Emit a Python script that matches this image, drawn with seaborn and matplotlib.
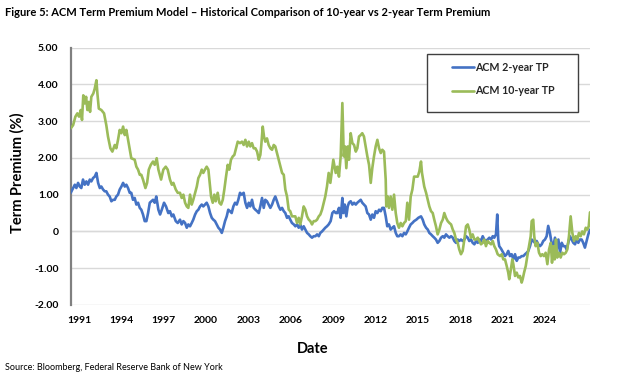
import matplotlib
matplotlib.use("Agg")
import matplotlib.pyplot as plt
import seaborn as sns
import pandas as pd
from matplotlib.patches import Rectangle

# ---------------- data ----------------
tp2_dates = [1990.41, 1990.58, 1990.70, 1990.81, 1990.93, 1991.05, 1991.16, 1991.28, 1991.40, 1991.52,
             1991.64, 1991.76, 1991.87, 1991.99, 1992.11, 1992.23, 1992.35, 1992.47, 1992.58, 1992.70,
             1992.82, 1992.93, 1993.05, 1993.17, 1993.29, 1993.41, 1993.53, 1993.64, 1993.76, 1993.88,
             1994.00, 1994.12, 1994.24, 1994.35, 1994.47, 1994.59, 1994.70, 1994.82, 1994.94, 1995.06,
             1995.18, 1995.30, 1995.41, 1995.53, 1995.65, 1995.77, 1995.89, 1996.01, 1996.12, 1996.24,
             1996.36, 1996.47, 1996.62, 1996.74, 1996.86, 1997.02, 1997.16, 1997.32, 1997.44, 1997.57,
             1997.68, 1997.85, 1997.99, 1998.15, 1998.27, 1998.39, 1998.51, 1998.63, 1998.74, 1998.86,
             1998.98, 1999.09, 1999.22, 1999.34, 1999.45, 1999.57, 1999.69, 1999.80, 1999.92, 2000.04,
             2000.16, 2000.28, 2000.40, 2000.51, 2000.63, 2000.75, 2000.87, 2000.99, 2001.11, 2001.22,
             2001.34, 2001.46, 2001.57, 2001.69, 2001.81, 2001.93, 2002.05, 2002.17, 2002.28, 2002.40,
             2002.52, 2002.66, 2002.78, 2002.90, 2003.02, 2003.13, 2003.25, 2003.37, 2003.49, 2003.61,
             2003.73, 2003.84, 2003.96, 2004.08, 2004.19, 2004.31, 2004.43, 2004.55, 2004.67, 2004.79,
             2004.90, 2005.02, 2005.14, 2005.26, 2005.38, 2005.50, 2005.61, 2005.73, 2005.85, 2005.96,
             2006.08, 2006.21, 2006.32, 2006.44, 2006.56, 2006.67, 2006.79, 2006.91, 2007.03, 2007.15,
             2007.27, 2007.38, 2007.50, 2007.62, 2007.74, 2007.86, 2007.98, 2008.09, 2008.21, 2008.33,
             2008.44, 2008.56, 2008.68, 2008.82, 2008.94, 2009.06, 2009.18, 2009.29, 2009.41, 2009.53,
             2009.65, 2009.72, 2009.82, 2009.93, 2010.03, 2010.12, 2010.24, 2010.36, 2010.48, 2010.60,
             2010.71, 2010.83, 2010.95, 2011.06, 2011.18, 2011.30, 2011.42, 2011.54, 2011.66, 2011.77,
             2011.89, 2012.01, 2012.13, 2012.25, 2012.37, 2012.48, 2012.60, 2012.72, 2012.83, 2012.95,
             2013.07, 2013.19, 2013.31, 2013.43, 2013.54, 2013.66, 2013.78, 2013.90, 2014.02, 2014.14,
             2014.25, 2014.37, 2014.49, 2014.61, 2014.73, 2014.89, 2015.03, 2015.22, 2015.34, 2015.45,
             2015.58, 2015.70, 2015.81, 2015.93, 2016.05, 2016.16, 2016.28, 2016.40, 2016.52, 2016.64,
             2016.76, 2016.87, 2016.99, 2017.11, 2017.23, 2017.35, 2017.47, 2017.58, 2017.70, 2017.82,
             2017.93, 2018.05, 2018.17, 2018.29, 2018.41, 2018.53, 2018.64, 2018.76, 2018.88, 2019.00,
             2019.12, 2019.24, 2019.35, 2019.47, 2019.59, 2019.70, 2019.82, 2019.94, 2020.06, 2020.18,
             2020.30, 2020.41, 2020.53, 2020.62, 2020.69, 2020.76, 2020.89, 2021.05, 2021.17, 2021.29,
             2021.40, 2021.52, 2021.64, 2021.76, 2021.88, 2022.00, 2022.11, 2022.23, 2022.35, 2022.47,
             2022.59, 2022.71, 2022.82, 2022.94, 2023.06, 2023.17, 2023.29, 2023.41, 2023.53, 2023.65,
             2023.77, 2023.88, 2024.00, 2024.12, 2024.23, 2024.35, 2024.47, 2024.59, 2024.71, 2024.83,
             2024.95, 2025.07, 2025.19, 2025.30, 2025.42, 2025.54, 2025.65, 2025.77, 2025.89, 2026.01,
             2026.13, 2026.24, 2026.36, 2026.48, 2026.60, 2026.71, 2026.83, 2026.95, 2027.07, 2027.19]
tp2_values = [1.05, 1.18, 1.27, 1.18, 1.32, 1.22, 1.18, 1.41, 1.27, 1.36,
              1.27, 1.41, 1.36, 1.45, 1.49, 1.59, 1.32, 1.18, 1.22, 1.14,
              1.09, 1.09, 1.00, 0.95, 0.82, 0.86, 0.86, 0.95, 1.00, 1.14,
              1.22, 1.32, 1.22, 1.27, 1.18, 1.05, 1.05, 0.86, 0.91, 0.73,
              0.78, 0.64, 0.59, 0.46, 0.28, 0.28, 0.50, 0.78, 0.82, 0.86,
              0.78, 0.95, 0.59, 0.46, 0.59, 0.78, 0.68, 0.50, 0.55, 0.41,
              0.46, 0.28, 0.23, 0.32, 0.19, 0.28, 0.23, 0.10, 0.19, 0.14,
              0.23, 0.32, 0.46, 0.55, 0.59, 0.68, 0.73, 0.68, 0.73, 0.78,
              0.68, 0.50, 0.37, 0.32, 0.28, 0.19, 0.10, 0.05, -0.04, 0.10,
              0.28, 0.41, 0.59, 0.55, 0.50, 0.68, 0.78, 0.73, 0.86, 1.05,
              1.00, 1.05, 0.78, 0.64, 0.78, 0.68, 0.86, 0.64, 0.59, 0.55,
              0.50, 0.68, 0.91, 0.64, 0.86, 0.82, 0.73, 0.64, 0.73, 0.86,
              0.95, 0.82, 0.68, 0.59, 0.64, 0.55, 0.50, 0.37, 0.41, 0.32,
              0.23, 0.19, 0.14, 0.19, 0.10, 0.19, 0.05, 0.14, 0.05, -0.04,
              -0.08, -0.13, -0.17, -0.13, -0.13, -0.08, -0.13, -0.04, 0.00, 0.05,
              0.10, 0.14, 0.19, 0.28, 0.50, 0.55, 0.50, 0.50, 0.64, 0.37,
              0.91, 0.50, 0.73, 0.41, 0.68, 0.78, 0.82, 0.73, 0.78, 0.73,
              0.78, 0.82, 0.86, 0.78, 0.73, 0.68, 0.50, 0.46, 0.32, 0.46,
              0.37, 0.55, 0.50, 0.59, 0.55, 0.64, 0.64, 0.41, 0.14, 0.19,
              0.05, 0.10, 0.14, -0.04, -0.13, -0.13, -0.08, -0.13, -0.04, -0.08,
              0.00, 0.10, 0.19, 0.23, 0.28, 0.32, 0.37, 0.41, 0.32, 0.19,
              0.10, 0.05, -0.04, -0.08, -0.13, -0.17, -0.22, -0.31, -0.26, -0.17,
              -0.13, -0.17, -0.08, -0.13, -0.17, -0.13, -0.17, -0.26, -0.31, -0.22,
              -0.26, -0.22, -0.26, -0.22, -0.13, -0.17, -0.26, -0.22, -0.31, -0.35,
              -0.26, -0.31, -0.22, -0.26, -0.13, -0.22, -0.26, -0.22, -0.17, -0.22,
              -0.13, -0.17, -0.08, 0.46, -0.22, -0.40, -0.47, -0.58, -0.67, -0.62,
              -0.53, -0.67, -0.62, -0.76, -0.62, -0.80, -0.71, -0.71, -0.67, -0.67,
              -0.62, -0.58, -0.53, -0.40, -0.22, -0.26, -0.31, -0.26, -0.35, -0.40,
              -0.35, -0.26, -0.22, -0.13, 0.15, -0.04, -0.31, -0.40, -0.17, -0.49,
              -0.22, -0.58, -0.31, -0.40, -0.40, -0.49, -0.31, -0.13, -0.22, -0.31,
              -0.35, -0.22, -0.31, -0.22, -0.22, -0.31, -0.44, -0.26, -0.08, 0.05]

tp10_dates = [1990.41, 1990.58, 1990.74, 1990.88, 1991.00, 1991.12, 1991.21, 1991.30, 1991.40, 1991.50,
              1991.59, 1991.69, 1991.78, 1991.87, 1992.01, 1992.11, 1992.23, 1992.30, 1992.40, 1992.58,
              1992.77, 1992.93, 1993.05, 1993.22, 1993.36, 1993.53, 1993.64, 1993.76, 1993.88, 1994.00,
              1994.12, 1994.24, 1994.35, 1994.47, 1994.59, 1994.70, 1994.94, 1995.06, 1995.18, 1995.30,
              1995.41, 1995.53, 1995.70, 1995.82, 1995.94, 1996.08, 1996.24, 1996.36, 1996.50, 1996.62,
              1996.81, 1996.97, 1997.14, 1997.28, 1997.44, 1997.57, 1997.68, 1997.85, 1997.99, 1998.15,
              1998.27, 1998.39, 1998.51, 1998.63, 1998.74, 1998.86, 1998.98, 1999.09, 1999.22, 1999.34,
              1999.45, 1999.57, 1999.69, 1999.80, 1999.92, 2000.04, 2000.16, 2000.23, 2000.35, 2000.47,
              2000.58, 2000.68, 2000.82, 2000.94, 2001.06, 2001.18, 2001.29, 2001.41, 2001.53, 2001.64,
              2001.76, 2001.89, 2002.00, 2002.12, 2002.24, 2002.40, 2002.54, 2002.66, 2002.78, 2002.90,
              2003.02, 2003.13, 2003.25, 2003.37, 2003.49, 2003.61, 2003.73, 2003.84, 2003.91, 2004.01,
              2004.10, 2004.19, 2004.31, 2004.43, 2004.55, 2004.67, 2004.79, 2004.90, 2005.02, 2005.14,
              2005.26, 2005.38, 2005.50, 2005.61, 2005.73, 2005.85, 2005.96, 2006.08, 2006.21, 2006.32,
              2006.44, 2006.56, 2006.67, 2006.79, 2006.91, 2007.03, 2007.15, 2007.27, 2007.38, 2007.50,
              2007.62, 2007.74, 2007.86, 2007.98, 2008.09, 2008.21, 2008.33, 2008.44, 2008.56, 2008.68,
              2008.80, 2009.01, 2009.18, 2009.29, 2009.41, 2009.53, 2009.65, 2009.75, 2009.84, 2009.93,
              2010.03, 2010.12, 2010.24, 2010.36, 2010.48, 2010.60, 2010.71, 2010.83, 2010.95, 2011.06,
              2011.18, 2011.30, 2011.42, 2011.54, 2011.66, 2011.77, 2011.89, 2012.01, 2012.13, 2012.25,
              2012.37, 2012.48, 2012.60, 2012.72, 2012.76, 2012.86, 2012.95, 2013.07, 2013.19, 2013.31,
              2013.43, 2013.54, 2013.66, 2013.78, 2013.90, 2014.02, 2014.14, 2014.25, 2014.37, 2014.49,
              2014.61, 2014.73, 2014.99, 2015.10, 2015.22, 2015.29, 2015.45, 2015.58, 2015.70, 2015.81,
              2015.93, 2016.05, 2016.16, 2016.28, 2016.40, 2016.52, 2016.64, 2016.76, 2016.87, 2016.99,
              2017.11, 2017.23, 2017.35, 2017.47, 2017.58, 2017.70, 2017.82, 2017.93, 2018.05, 2018.17,
              2018.29, 2018.41, 2018.53, 2018.64, 2018.76, 2018.88, 2019.00, 2019.12, 2019.24, 2019.35,
              2019.47, 2019.59, 2019.70, 2019.82, 2019.94, 2020.06, 2020.18, 2020.30, 2020.41, 2020.53,
              2020.65, 2020.82, 2020.94, 2021.05, 2021.17, 2021.29, 2021.40, 2021.47, 2021.57, 2021.69,
              2021.76, 2021.88, 2022.00, 2022.11, 2022.23, 2022.35, 2022.42, 2022.52, 2022.64, 2022.75,
              2022.87, 2022.99, 2023.06, 2023.17, 2023.24, 2023.34, 2023.46, 2023.58, 2023.70, 2023.81,
              2023.93, 2024.05, 2024.17, 2024.29, 2024.41, 2024.50, 2024.59, 2024.69, 2024.78, 2024.87,
              2024.99, 2025.11, 2025.23, 2025.35, 2025.47, 2025.58, 2025.70, 2025.82, 2025.94, 2026.06,
              2026.18, 2026.29, 2026.41, 2026.53, 2026.64, 2026.76, 2026.89, 2027.00, 2027.10, 2027.19]
tp10_values = [2.80, 2.89, 3.12, 3.21, 3.12, 3.30, 3.03, 3.70, 3.48, 3.66,
               3.30, 3.52, 3.25, 3.66, 3.75, 3.88, 4.11, 3.75, 3.34, 3.30,
               3.21, 2.89, 2.58, 2.26, 2.17, 2.35, 2.26, 2.49, 2.76, 2.67,
               2.85, 2.62, 2.76, 2.49, 2.22, 1.99, 1.95, 1.76, 1.68, 1.54,
               1.54, 1.41, 1.18, 1.32, 1.68, 1.81, 1.90, 1.81, 1.99, 1.68,
               1.41, 1.68, 1.76, 1.68, 1.41, 1.27, 1.32, 1.14, 1.05, 1.05,
               0.91, 1.00, 0.78, 0.68, 0.64, 1.00, 0.73, 0.86, 1.05, 1.22,
               1.45, 1.54, 1.68, 1.59, 1.68, 1.76, 1.68, 1.41, 0.95, 0.78,
               1.00, 0.82, 1.05, 0.78, 0.73, 0.86, 1.14, 1.49, 1.81, 1.68,
               1.95, 2.04, 2.08, 2.26, 2.44, 2.40, 2.44, 2.35, 2.49, 2.31,
               2.44, 2.31, 2.40, 2.26, 2.26, 2.17, 1.95, 2.08, 2.35, 2.85,
               2.58, 2.44, 2.53, 2.35, 2.26, 2.22, 2.35, 2.31, 2.13, 1.95,
               1.76, 1.59, 1.54, 1.14, 0.95, 0.59, 0.55, 0.41, 0.41, 0.41,
               0.23, 0.37, 0.19, 0.41, 0.68, 0.59, 0.41, 0.32, 0.28, 0.19,
               0.28, 0.28, 0.32, 0.41, 0.46, 0.59, 0.78, 0.95, 1.22, 1.59,
               1.32, 1.95, 1.59, 1.76, 1.49, 2.04, 3.49, 2.04, 2.31, 1.72,
               2.31, 1.95, 2.67, 2.40, 2.35, 2.17, 2.26, 2.58, 2.62, 2.67,
               2.58, 2.31, 2.04, 1.81, 1.32, 1.72, 2.04, 2.31, 2.49, 2.26,
               2.13, 2.22, 2.17, 1.41, 0.68, 0.95, 0.64, 0.95, 0.59, 1.00,
               0.50, 0.23, 0.10, 0.23, 0.14, 0.23, 0.28, 0.78, 0.32, 0.95,
               1.14, 1.49, 1.49, 1.63, 1.90, 1.59, 1.22, 1.05, 0.86, 0.68,
               0.55, 0.50, 0.32, 0.14, -0.08, 0.05, 0.23, 0.32, 0.50, 0.37,
               0.28, 0.23, 0.19, 0.05, -0.04, -0.22, -0.31, -0.49, -0.62, -0.53,
               -0.22, 0.14, 0.19, 0.05, -0.17, -0.08, -0.22, -0.22, -0.17, -0.26,
               -0.35, -0.31, -0.22, -0.40, -0.26, -0.31, -0.35, -0.26, -0.40, -0.49,
               -0.62, -0.67, -0.62, -0.76, -0.76, -0.94, -1.12, -1.30, -1.07, -0.76,
               -0.89, -1.21, -1.12, -1.25, -1.21, -1.39, -1.30, -1.12, -0.94, -0.67,
               -0.40, -0.13, 0.28, 0.32, -0.13, -0.40, -0.31, -0.58, -0.67, -0.62,
               -0.67, -0.58, -0.89, -0.49, -0.31, -0.85, -0.40, -0.76, -0.22, -0.71,
               -0.58, -0.71, -0.58, -0.62, -0.58, -0.49, -0.13, 0.41, -0.04, -0.26,
               -0.13, -0.22, -0.04, -0.13, 0.00, -0.08, 0.10, 0.05, 0.14, 0.52]

year_ticks = [1991, 1994, 1997, 2000, 2003, 2006, 2009, 2012, 2015, 2018, 2021, 2024]
year_labels = [str(y) for y in year_ticks]
y_ticks = [5, 4, 3, 2, 1, 0, -1, -2]
y_labels = ["5.00", "4.00", "3.00", "2.00", "1.00", "0", "-1.00", "-2.00"]
series_names = ["ACM 2-year TP", "ACM 10-year TP"]
series_colors = ["#4472C4", "#9BBB59"]

# ---------------- figure ----------------
sns.set_theme(style="white")
plt.rcParams["font.family"] = ["Lato", "DejaVu Sans"]

W, H = 624, 378
fig = plt.figure(figsize=(W / 100, H / 100), dpi=100)
ax_l, ax_r, ax_t, ax_b = 71, 590, 47.5, 305
ax = fig.add_axes([ax_l / W, 1 - ax_b / H, (ax_r - ax_l) / W, (ax_b - ax_t) / H])

df2 = pd.DataFrame({"Date": tp2_dates, "TP": tp2_values})
df10 = pd.DataFrame({"Date": tp10_dates, "TP": tp10_values})
sns.lineplot(data=df2, x="Date", y="TP", ax=ax, color=series_colors[0], lw=1.9,
             estimator=None, label=series_names[0], zorder=3)
sns.lineplot(data=df10, x="Date", y="TP", ax=ax, color=series_colors[1], lw=1.9,
             estimator=None, label=series_names[1], zorder=4)

ax.set_xlim(1990.43, 2027.19)
ax.set_ylim(-2, 5)

ax.set_yticks(y_ticks)
ax.set_yticklabels(y_labels)
ax.set_xticks(year_ticks)
ax.set_xticklabels(year_labels)
ax.tick_params(axis="both", length=0, labelsize=7.5, colors="#000000")
ax.tick_params(axis="y", pad=9)
ax.tick_params(axis="x", pad=8)
for lab in ax.get_xticklabels() + ax.get_yticklabels():
    lab.set_fontweight("bold")

ax.yaxis.grid(True, color="#d9d9d9", lw=1.0, zorder=0)
ax.xaxis.grid(False)
ax.axhline(0, color="#d9d9d9", lw=1.0, zorder=1)
for s in ["top", "right", "bottom"]:
    ax.spines[s].set_visible(False)
ax.spines["left"].set_color("#808080")
ax.spines["left"].set_linewidth(1.6)

ax.set_ylabel("Term Premium (%)", fontsize=10.5, fontweight="bold", color="#000000")
ax.yaxis.set_label_coords(-0.104, 0.513)
ax.yaxis.label.set_verticalalignment("center")
ax.set_xlabel("Date", fontsize=10.5, fontweight="bold", color="#000000")
ax.xaxis.set_label_coords(0.466, -0.171)
ax.xaxis.label.set_verticalalignment("center")

# legend box
box_x0 = (427 - ax_l) / (ax_r - ax_l)
box_x1 = (578 - ax_l) / (ax_r - ax_l)
box_y0 = 1 - (112 - ax_t) / (ax_b - ax_t)
box_y1 = 1 - (54 - ax_t) / (ax_b - ax_t)
ax.add_patch(Rectangle((box_x0, box_y0), box_x1 - box_x0, box_y1 - box_y0,
                       transform=ax.transAxes, facecolor="white", edgecolor="#404040",
                       lw=1.0, zorder=5))
leg = ax.legend(loc="upper left", bbox_to_anchor=((452 - ax_l) / (ax_r - ax_l), 1 - (62 - ax_t) / (ax_b - ax_t)),
                frameon=False, borderpad=0, borderaxespad=0, handlelength=2.1,
                handletextpad=0.1, labelspacing=1.15,
                prop={"family": ["Lato", "DejaVu Sans"], "weight": "bold", "size": 7.7})
leg.set_zorder(6)

fig.text(5 / W, 1 - 12.5 / H,
         "Figure 5: ACM Term Premium Model \u2013 Historical Comparison of 10-year vs 2-year Term Premium",
         ha="left", va="center", fontsize=8.0, fontweight="bold", color="#000000")
fig.text(5 / W, 1 - 368 / H, "Source: Bloomberg, Federal Reserve Bank of New York",
         ha="left", va="center", fontsize=6.5, color="#000000")

fig.savefig("out.png", dpi=100, facecolor="white")
